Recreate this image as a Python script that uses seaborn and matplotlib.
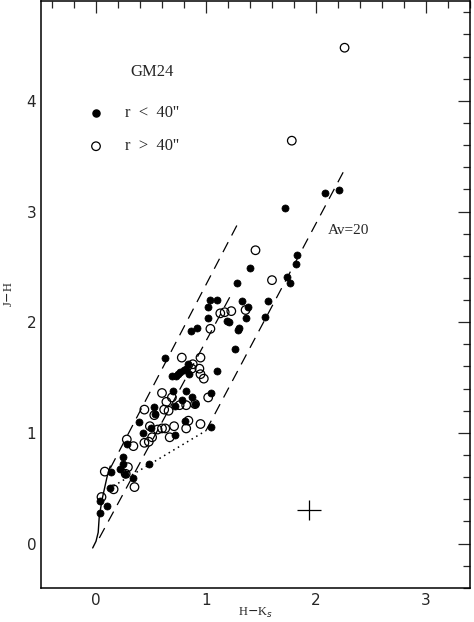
import numpy as np
import pandas as pd
import matplotlib
matplotlib.use('Agg')
import matplotlib.pyplot as plt
import seaborn as sns
from matplotlib.ticker import MultipleLocator

# stars inside r < 40'' (filled) : H-Ks , J-H
inner_hk = [0.04, 0.04, 0.10, 0.13, 0.14, 0.22, 0.25, 0.25, 0.26, 0.28, 0.34, 0.48,
            0.39, 0.43, 0.50, 0.53, 0.54, 0.63, 0.70, 0.72, 0.72, 0.69, 0.75, 0.78,
            0.82, 0.82, 0.84, 0.85, 0.81, 0.87, 0.90, 0.86, 0.92, 1.02, 1.02, 1.05,
            1.10, 1.05, 1.19, 1.21, 1.26, 1.30, 1.29, 1.36, 1.38, 1.33, 1.54, 1.56,
            1.04, 1.10, 1.28, 1.40, 1.72, 2.08, 2.21, 1.83, 1.82, 1.74, 1.76, 0.76,
            0.80, 0.73]
inner_jh = [0.28, 0.38, 0.34, 0.50, 0.65, 0.67, 0.78, 0.72, 0.63, 0.90, 0.59, 0.72,
            1.10, 1.00, 1.04, 1.23, 1.17, 1.68, 1.38, 1.24, 0.98, 1.51, 1.53, 1.30,
            1.38, 1.58, 1.62, 1.53, 1.11, 1.32, 1.26, 1.92, 1.95, 2.04, 2.14, 1.36,
            1.56, 1.05, 2.01, 2.00, 1.76, 1.95, 1.93, 2.04, 2.14, 2.19, 2.05, 2.19,
            2.20, 2.20, 2.35, 2.49, 3.03, 3.17, 3.19, 2.61, 2.53, 2.41, 2.35, 1.55,
            1.57, 1.51]

# stars outside r > 40'' (open)
outer_hk = [2.26, 1.78, 1.45, 1.60, 1.36, 1.13, 1.17, 1.23, 1.04, 0.05, 0.08, 0.16,
            0.28, 0.29, 0.27, 0.34, 0.35, 0.44, 0.44, 0.48, 0.51, 0.49, 0.53, 0.56,
            0.60, 0.63, 0.60, 0.62, 0.64, 0.67, 0.69, 0.71, 0.76, 0.78, 0.82, 0.82,
            0.84, 0.88, 0.87, 0.95, 0.94, 0.95, 0.98, 0.95, 1.02, 0.66, 0.90]
outer_jh = [4.48, 3.64, 2.65, 2.38, 2.11, 2.08, 2.09, 2.10, 1.94, 0.42, 0.65, 0.49,
            0.94, 0.69, 0.63, 0.88, 0.51, 1.21, 0.91, 0.92, 0.96, 1.06, 1.16, 1.03,
            1.04, 1.04, 1.36, 1.21, 1.28, 0.96, 1.32, 1.06, 1.25, 1.68, 1.04, 1.25,
            1.11, 1.62, 1.58, 1.68, 1.58, 1.53, 1.49, 1.08, 1.32, 1.20, 1.26]

# main sequence / giant locus
ms_hk = [-0.03, 0.00, 0.02, 0.03, 0.06, 0.10, 0.13]
ms_jh = [-0.04, 0.02, 0.10, 0.25, 0.42, 0.60, 0.70]

# CTTS locus
ctts_hk = [0.16, 1.00]
ctts_jh = [0.52, 1.02]

# reddening vectors (Av = 20)
red_start_hk = [0.13, 0.03, 1.00]
red_start_jh = [0.68, 0.05, 1.02]
red_end_hk = [1.31, 1.24, 2.25]
red_end_jh = [2.93, 2.27, 3.36]

# typical error bar
err_hk, err_jh = 1.94, 0.30
err_dhk, err_djh = 0.11, 0.09

inner = pd.DataFrame({'hk': inner_hk, 'jh': inner_jh})
outer = pd.DataFrame({'hk': outer_hk, 'jh': outer_jh})

sns.set_style('white')
plt.rcParams['font.family'] = ['DejaVu Sans']

fig = plt.figure(figsize=(4.74, 6.22), dpi=100)
ax = fig.add_axes([0.0865, 0.055, 0.905, 0.943])

sns.lineplot(x=ms_hk, y=ms_jh, ax=ax, color='black', lw=1.0, sort=False)
sns.lineplot(x=ctts_hk, y=ctts_jh, ax=ax, color='black', lw=1.1, linestyle=(0, (1, 2.5)))
for i in range(3):
    ax.plot([red_start_hk[i], red_end_hk[i]], [red_start_jh[i], red_end_jh[i]],
            color='black', lw=0.9, dashes=(9, 6))

sns.scatterplot(data=inner, x='hk', y='jh', ax=ax, s=26, color='black',
                edgecolor='black', linewidth=0.5)
sns.scatterplot(data=outer, x='hk', y='jh', ax=ax, s=38, facecolor='none',
                edgecolor='black', linewidth=0.9)

ax.errorbar(err_hk, err_jh, xerr=err_dhk, yerr=err_djh, color='black', lw=0.9, capsize=0)

# legend drawn by hand like the original
ax.scatter([0.0], [3.89], s=26, color='black')
ax.scatter([0.0], [3.59], s=38, facecolor='none', edgecolor='black', linewidth=0.9)
ax.text(0.26, 3.89, "r  <  40''", fontsize=12, family='Liberation Serif', va='center')
ax.text(0.26, 3.59, "r  >  40''", fontsize=12, family='Liberation Serif', va='center')
ax.text(0.31, 4.26, 'GM24', fontsize=12, family='Liberation Serif', va='center')
ax.text(2.11, 2.83, 'Av=20', fontsize=11, family='Liberation Serif', va='center')

ax.set_xlim(-0.5, 3.4)
ax.set_ylim(-0.4, 4.9)
ax.xaxis.set_major_locator(MultipleLocator(1))
ax.xaxis.set_minor_locator(MultipleLocator(0.2))
ax.yaxis.set_major_locator(MultipleLocator(1))
ax.yaxis.set_minor_locator(MultipleLocator(0.2))
ax.tick_params(which='both', direction='in', top=True, right=True, width=0.9, labelsize=11)
ax.tick_params(which='major', length=8.5)
ax.tick_params(which='minor', length=5)
for sp in ax.spines.values():
    sp.set_linewidth(1.1)
    sp.set_color('black')

ax.set_xlabel('H$-$K$_s$', fontsize=9, family='Liberation Serif')
ax.xaxis.set_label_coords(0.5, -0.043)
ax.xaxis.label.set_va('center')
ax.set_ylabel('J$-$H', fontsize=9, family='Liberation Serif', labelpad=8)

fig.savefig('out.png', dpi=100)
